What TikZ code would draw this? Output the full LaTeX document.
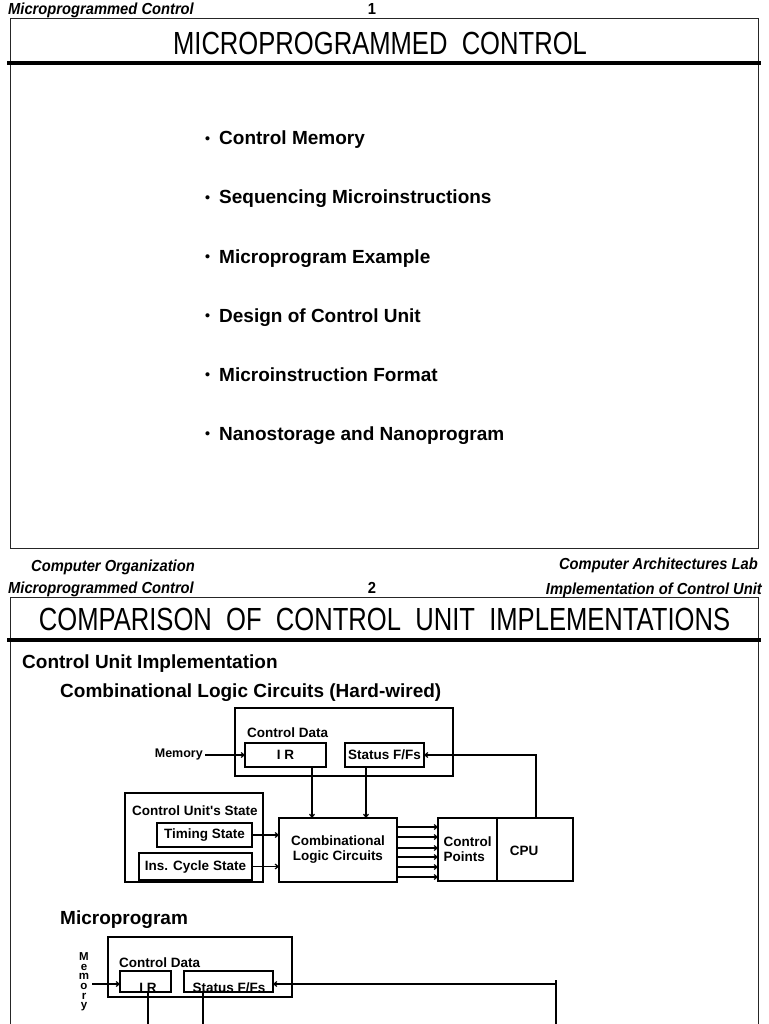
\documentclass[tikz,border=0pt]{standalone}
\usepackage{fontspec}
\setmainfont{Liberation Sans}
\newfontfamily\narrowfont[FakeStretch=0.8]{Liberation Sans}
\newfontfamily\hdrfont[FakeStretch=0.92]{Liberation Sans}
\newfontfamily\diagfont[Ligatures=TeXOff]{Liberation Sans}
\usetikzlibrary{arrows.meta}
\newcommand\dgfont{\diagfont\bfseries\fontsize{13.5}{15}\selectfont}
\newcommand\smbul{\raisebox{1.5pt}{\scalebox{0.75}{\textbullet}}\hspace{9pt}}
\begin{document}
\begin{tikzpicture}[x=1pt,y=-1pt,
  hdr/.style={inner sep=0, font=\hdrfont\bfseries\itshape\fontsize{16}{18}\selectfont},
  num/.style={inner sep=0, anchor=base, font=\hdrfont\bfseries\fontsize{16}{18}\selectfont},
  ttl/.style={inner sep=0, anchor=base, font=\narrowfont\fontsize{32}{36}\selectfont},
  bul/.style={inner sep=0, anchor=base west, font=\bfseries\fontsize{19}{22}\selectfont},
  box/.style={draw, line width=1.3pt, inner sep=0, outer sep=0, font=\dgfont, align=center},
  lbl/.style={inner sep=0, font=\dgfont},
  arr/.style={line width=1.2pt, -{Straight Barb[length=3pt,width=5pt]}},
  wire/.style={line width=1.2pt},
  frame/.style={line width=1pt, black!85},
  rulel/.style={line width=4pt}]
\useasboundingbox (0,0) rectangle (768,1024);
\fill[white] (0,0) rectangle (768,1024);

% ---------- slide 1 ----------
\draw[frame] (10,19) rectangle (758,548);
\draw[rulel] (7,63) -- (761,63);
\node[hdr, anchor=base west] (h1) at (8,15) {Microprogrammed Control};
\node[num] (n1) at (372,15) {1};
\node[ttl] (t1) at (380,54.5) {MICROPROGRAMMED\ \ CONTROL};
\node[bul] (b1) at (205,145) {\smbul Control Memory};
\node[bul] (b2) at (205,204) {\smbul Sequencing Microinstructions};
\node[bul] (b3) at (205,263) {\smbul Microprogram Example};
\node[bul] (b4) at (205,322) {\smbul Design of Control Unit};
\node[bul] (b5) at (205,381) {\smbul Microinstruction Format};
\node[bul] (b6) at (205,440) {\smbul Nanostorage and Nanoprogram};
\node[hdr, anchor=base west] (f1) at (31,571) {Computer Organization};
\node[hdr, anchor=base east] (f2) at (758,569) {Computer Architectures Lab};

% ---------- slide 2 ----------
\draw[frame] (10,1026) -- (10,597) -- (758,597) -- (758,1026);
\draw[rulel] (7,640) -- (761,640);
\node[hdr, anchor=base west] (h2) at (8,593) {Microprogrammed Control};
\node[num] (n2) at (372,593) {2};
\node[hdr, anchor=base east] (h3) at (762,594) {Implementation of Control Unit};
\node[ttl] (t2) at (384.5,630.5) {COMPARISON\ \ OF\ \ CONTROL\ \ UNIT\ \ IMPLEMENTATIONS};
\node[bul] (s1) at (22,668) {Control Unit Implementation};
\node[bul] (s2) at (60,697) {Combinational Logic Circuits (Hard-wired)};
\node[bul] (s3) at (60,924) {Microprogram};

% ---- hard-wired diagram ----
\node[box, minimum width=218pt, minimum height=68pt] (cd1) at (344,742) {};
\node[lbl, anchor=base west] (cd1l) at (247,737) {Control Data};
\node[box, minimum width=81pt, minimum height=24pt] (ir1) at (285.5,755) {I R};
\node[box, minimum width=79pt, minimum height=24pt] (st1) at (384.5,755) {Status F/Fs};
\node[lbl, anchor=east, font=\dgfont\fontsize{12.5}{14}\selectfont] (mem1) at (203,754) {Memory};
\draw[arr] (mem1.east) ++(2,1) coordinate (m1a) -- (m1a -| ir1.west);

\node[box, line width=2pt, minimum width=138pt, minimum height=89pt] (cus) at (194,837.5) {};
\node[lbl, anchor=base west] (cusl) at (132,815) {Control Unit's State};
\node[box, minimum width=95pt, minimum height=24pt] (ts) at (204.5,835) {Timing State};
\node[box, minimum width=113pt, minimum height=27pt] (ics) at (195.5,866.5) {Ins. Cycle State};
\draw[line width=3pt] (ics.south west) -- (ics.south east);

\node[box, line width=1.5pt, minimum width=118pt, minimum height=64pt] (clc) at (338,850)
  {Combinational\\Logic Circuits};
\node[box, line width=1.5pt, minimum width=59pt, minimum height=63pt, align=left] (cp) at (467.5,849.5)
  {Control\\Points};
\node[box, line width=1.5pt, minimum width=76pt, minimum height=63pt] (cpu) at (535,849.5) {};
\node[lbl] (cpul) at (524,851) {CPU};

\draw[arr] ([xshift=26.5pt]ir1.south) -- ([xshift=26.5pt]ir1.south |- clc.north);
\draw[arr] ([xshift=-18.5pt]st1.south) -- ([xshift=-18.5pt]st1.south |- clc.north);
\draw[arr] (ts.east) -- (ts.east -| clc.west);
\draw[arr] (ics.east) -- (ics.east -| clc.west);
\foreach \yy in {827,837,848,857,867,877}
  \draw[arr] (clc.east |- 0,\yy) -- (cp.west |- 0,\yy);
\draw[arr] ([xshift=1pt]cpu.north) |- (st1.east);

% ---- microprogram diagram ----
\node[box, minimum width=184pt, minimum height=60pt] (cd2) at (200,967) {};
\node[lbl, anchor=base west] (cd2l) at (119,967) {Control Data};
\node[box, minimum width=51pt, minimum height=21pt] (ir2) at (145.5,981.5) {};
\node[box, minimum width=89pt, minimum height=21pt] (st2) at (228.5,981.5) {};
\node[lbl] (ir2l) at (148,987.5) {I R};
\node[lbl] (st2l) at (229,987.5) {Status F/Fs};
\node[lbl, align=center, font=\bfseries\fontsize{11.5}{9.6}\selectfont] (mem2) at (84,982) {M\\e\\m\\o\\r\\y};
\coordinate (m2a) at (92,984);
\draw[arr] (m2a) -- (m2a -| ir2.west);
\draw[wire] ([xshift=2.5pt]ir2.south) -- ++(0,34);
\draw[wire] ([xshift=-25.5pt]st2.south) -- ++(0,34);
\coordinate (fb2) at (556,980);
\draw[wire] (fb2) -- ++(0,46);
\draw[arr] (fb2 |- 0,984) -- (st2.east |- 0,984);
\end{tikzpicture}
\end{document}
